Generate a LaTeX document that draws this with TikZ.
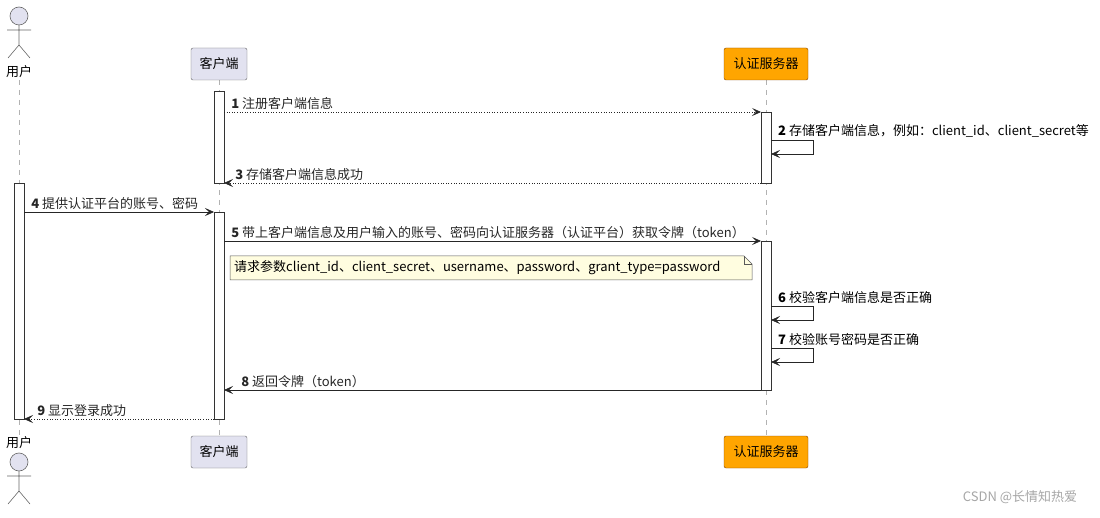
\documentclass[tikz,border=0pt]{standalone}
\usepackage{fontspec}
\setmainfont{Noto Sans CJK SC}
\usetikzlibrary{arrows.meta}
\definecolor{lav}{HTML}{E2E2F0}
\definecolor{orng}{HTML}{FFA500}
\begin{document}
\begin{tikzpicture}[x=1pt,y=-1pt,font=\fontsize{13}{15}\selectfont,
  life/.style={draw=gray!60,line width=1pt,dash pattern=on 5pt off 5pt},
  part/.style={draw=gray!80!black,rounded corners=2pt,minimum width=56pt,minimum height=32pt,fill=lav},
  srv/.style={part,fill=orng,draw=orange!50!black,minimum width=84pt},
  act/.style={draw=black!80,fill=white,line width=0.6pt},
  msg/.style={-{Stealth[length=9pt,width=8pt,inset=4pt]},line width=0.6pt,black!85},
  dmsg/.style={msg,dotted},
  lab/.style={anchor=south west,inner sep=1pt,yshift=1pt},
  actor/.style={draw=gray!80!black,line width=0.6pt}]
\useasboundingbox (0,0) rectangle (1100,518);
% lifelines
\draw[life] (19,80) -- (19,438);
\draw[life] (219,80) -- (219,438);
\draw[life] (766,80) -- (766,438);
% actors
\draw[actor,fill=lav] (19,16) circle (9);
\draw[actor] (19,25) -- (19,45) (7,30) -- (31,30) (19,45) -- (8,58) (19,45) -- (30,58);
\node (u1) at (19,72) {用户};
\node (u2) at (19,443) {用户};
\draw[actor,fill=lav] (19,462) circle (9);
\draw[actor] (19,471) -- (19,491) (7,476) -- (31,476) (19,491) -- (8,504) (19,491) -- (30,504);
\node[part] (c1) at (219,64) {客户端};
\node[part] (c2) at (219,452) {客户端};
\node[srv] (s1) at (766,64) {认证服务器};
\node[srv] (s2) at (766,452) {认证服务器};
% activations
\draw[act] (214,91) rectangle (224,183);
\draw[act] (214,212) rectangle (224,419);
\draw[act] (761,112) rectangle (771,183);
\draw[act] (761,241) rectangle (771,390);
\draw[act] (14,183) rectangle (24,419);
% coordinates
\coordinate (a1) at (224,112); \coordinate (b1) at (761,112);
\coordinate (a3) at (761,183); \coordinate (b3) at (224,183);
\coordinate (a4) at (24,212); \coordinate (b4) at (214,212);
\coordinate (a5) at (224,241); \coordinate (b5) at (761,241);
\coordinate (a8) at (761,390); \coordinate (b8) at (224,390);
\coordinate (a9) at (214,419); \coordinate (b9) at (24,419);
\draw[dmsg] (a1) -- (b1) node[lab,pos=0,xshift=6pt] {\textbf{1}\ 注册客户端信息};
\draw[msg] (771,140) -- (813,140) -- (813,154) -- (771,154);
\node[lab] (l2) at (777,140) {\textbf{2}\ 存储客户端信息，例如：client\_id、client\_secret等};
\draw[dmsg] (a3) -- (b3) node[lab,pos=1,xshift=10pt] {\textbf{3}\ 存储客户端信息成功};
\draw[msg] (a4) -- (b4) node[lab,pos=0,xshift=6pt] {\textbf{4}\ 提供认证平台的账号、密码};
\draw[msg] (a5) -- (b5) node[lab,pos=0,xshift=6pt] {\textbf{5}\ 带上客户端信息及用户输入的账号、密码向认证服务器（认证平台）获取令牌（token）};
% note
\draw[gray!70!black,fill=yellow!12,line width=0.5pt] (230,256) -- (744,256) -- (752,264) -- (752,280) -- (230,280) -- cycle;
\draw[gray!70!black,line width=0.5pt] (744,256) -- (744,264) -- (752,264);
\node[anchor=west,inner sep=1pt] (note) at (233,268) {请求参数client\_id、client\_secret、username、password、grant\_type=password};
\draw[msg] (771,306) -- (813,306) -- (813,320) -- (771,320);
\node[lab] (l6) at (777,306) {\textbf{6}\ 校验客户端信息是否正确};
\draw[msg] (771,348) -- (813,348) -- (813,362) -- (771,362);
\node[lab] (l7) at (777,348) {\textbf{7}\ 校验账号密码是否正确};
\draw[msg] (a8) -- (b8) node[lab,pos=1,xshift=16pt] {\textbf{8}\ 返回令牌（token）};
\draw[dmsg] (a9) -- (b9) node[lab,pos=1,xshift=12pt] {\textbf{9}\ 显示登录成功};
\node[text=gray!70,font=\fontsize{13}{15}\selectfont] (wm) at (1020,497) {CSDN @长情知热爱};
\end{tikzpicture}
\end{document}
